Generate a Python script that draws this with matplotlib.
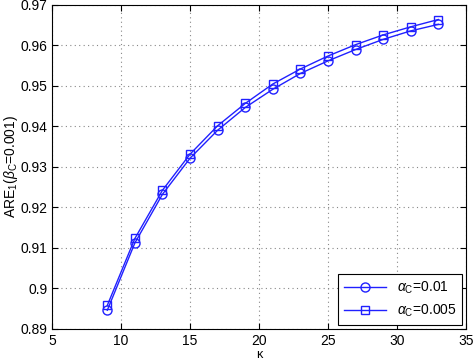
import matplotlib
matplotlib.use("Agg")
import matplotlib.pyplot as plt

plt.rcParams['font.family'] = ['Liberation Sans', 'DejaVu Sans']
plt.rcParams['mathtext.fontset'] = 'custom'
plt.rcParams['mathtext.rm'] = 'Liberation Sans'
plt.rcParams['mathtext.it'] = 'Liberation Sans:italic'

kappa = [9, 11, 13, 15, 17, 19, 21, 23, 25, 27, 29, 31, 33]
are_a01 = [0.8946, 0.9112, 0.9232, 0.9321, 0.9390, 0.9446, 0.9491,
           0.9530, 0.9561, 0.9589, 0.9614, 0.9635, 0.9651]
are_a005 = [0.8958, 0.9123, 0.9242, 0.9331, 0.9401, 0.9456, 0.9504,
            0.9541, 0.9573, 0.9601, 0.9625, 0.9645, 0.9663]

xticks = [5, 10, 15, 20, 25, 30, 35]
yticks = [0.89, 0.90, 0.91, 0.92, 0.93, 0.94, 0.95, 0.96, 0.97]
ytick_labels = ['0.89', '0.9', '0.91', '0.92', '0.93', '0.94', '0.95', '0.96', '0.97']

fig = plt.figure(figsize=(4.74, 3.61), dpi=100)
ax = fig.add_axes([0.11, 0.089, 0.873, 0.8985])

ax.plot(kappa, are_a01, color='#2020ff', lw=1, marker='o', ms=6.5,
        mfc='none', mec='#2020ff', label=r'$\alpha_{\rm C}$=0.01')
ax.plot(kappa, are_a005, color='#2020ff', lw=1, marker='s', ms=6,
        mfc='none', mec='#2020ff', label=r'$\alpha_{\rm C}$=0.005')

ax.set_xlim(5, 35)
ax.set_ylim(0.89, 0.97)
ax.set_xticks(xticks)
ax.set_yticks(yticks)
ax.set_yticklabels(ytick_labels)
ax.tick_params(direction='in', labelsize=10, length=4, top=True, right=True)
ax.grid(True, linestyle=(0, (1, 3)), color='#888888', lw=0.8)
for s in ax.spines.values():
    s.set_linewidth(0.8)

ax.set_xlabel('κ', fontsize=9)
ax.xaxis.set_label_coords(0.5, -0.062)
ax.set_ylabel(r'ARE$_1$($\beta_{\rm C}$=0.001)', fontsize=10)
ax.yaxis.set_label_coords(-0.078, 0.5)

leg = ax.legend(loc='lower right', fontsize=10, fancybox=False,
                edgecolor='black', framealpha=1, handlelength=3,
                borderaxespad=0.3)
leg.get_frame().set_linewidth(0.8)

fig.savefig('out.png', dpi=100)
